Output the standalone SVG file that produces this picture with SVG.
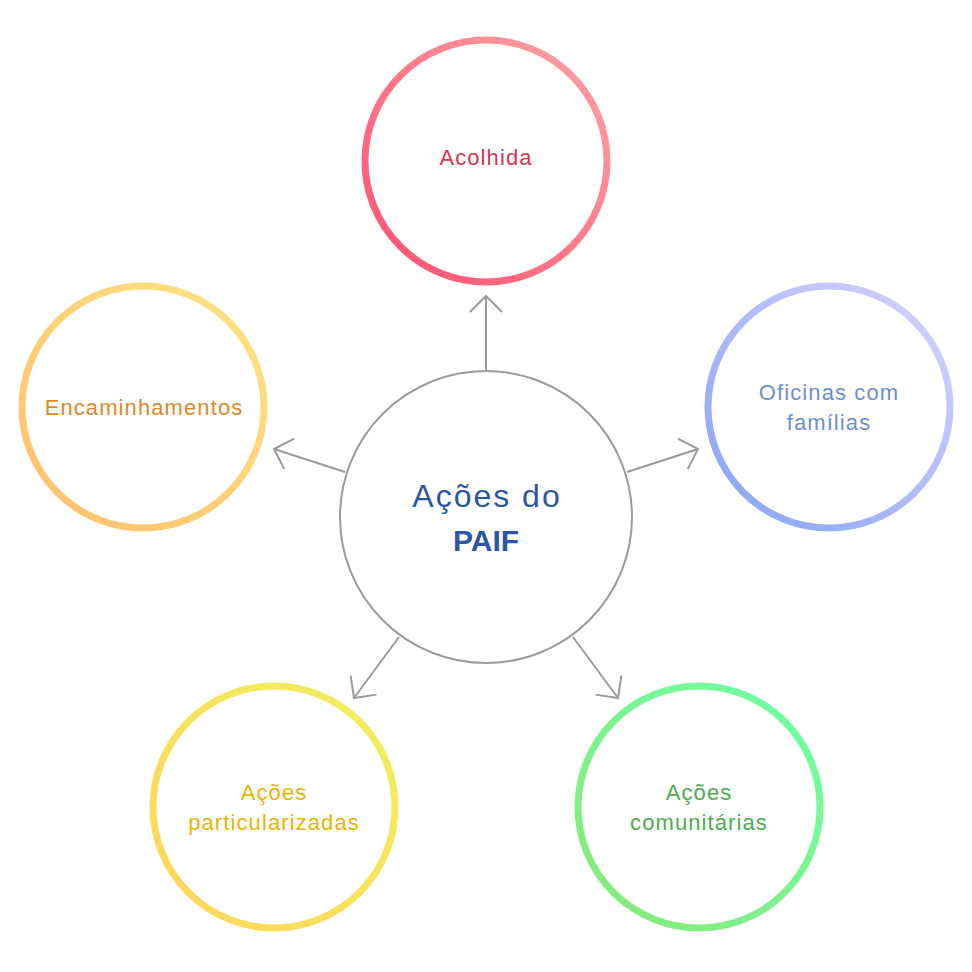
<svg xmlns="http://www.w3.org/2000/svg" width="972" height="972" viewBox="0 0 972 972">
<style>
.ring{fill:#fff;stroke-width:7}
.lbl{font-family:"Liberation Sans",Arial,sans-serif;font-size:22px;letter-spacing:1.1px;text-anchor:middle}
.conn{stroke:#9b9b9b;stroke-width:2;fill:none}
.ctr{font-family:"Liberation Sans",Arial,sans-serif;text-anchor:middle;fill:#2a56a8}
</style>
<defs>
<linearGradient id="gPink" x1="0" y1="1" x2="1" y2="0"><stop offset="0" stop-color="#ff4f70"/><stop offset="1" stop-color="#ffa3a6"/></linearGradient>
<linearGradient id="gBlue" x1="0" y1="1" x2="1" y2="0"><stop offset="0" stop-color="#86a4f4"/><stop offset="1" stop-color="#d9d3ff"/></linearGradient>
<linearGradient id="gOrange" x1="0" y1="1" x2="1" y2="0"><stop offset="0" stop-color="#ffbf6c"/><stop offset="1" stop-color="#ffe383"/></linearGradient>
<linearGradient id="gYellow" x1="0" y1="1" x2="1" y2="0"><stop offset="0" stop-color="#ffd55c"/><stop offset="1" stop-color="#eef05c"/></linearGradient>
<linearGradient id="gGreen" x1="0" y1="1" x2="1" y2="0"><stop offset="0" stop-color="#8ae878"/><stop offset="1" stop-color="#6effa6"/></linearGradient>
<marker id="arr" markerUnits="userSpaceOnUse" viewBox="-18 -18 20 36" refX="0" refY="0" markerWidth="20" markerHeight="36" orient="auto" overflow="visible">
<path d="M-16,-16 L0,0 L-16,16" fill="none" stroke="#9b9b9b" stroke-width="2"/>
</marker>
</defs>
<rect width="972" height="972" fill="#fff"/>
<g id="connectors">
<line class="conn" x1="486" y1="370" x2="486" y2="296" marker-end="url(#arr)"/>
<line class="conn" x1="345" y1="472" x2="274" y2="449" marker-end="url(#arr)"/>
<line class="conn" x1="627" y1="472" x2="698" y2="449" marker-end="url(#arr)"/>
<line class="conn" x1="399" y1="637" x2="354" y2="698" marker-end="url(#arr)"/>
<line class="conn" x1="573" y1="637" x2="618" y2="698" marker-end="url(#arr)"/>
</g>
<g id="center">
<circle cx="486" cy="517" r="146" fill="#fff" stroke="#9b9b9b" stroke-width="2"/>
<text class="ctr" x="487" y="507" font-size="32" letter-spacing="2">Ações do</text>
<text class="ctr" x="486" y="551" font-size="30" font-weight="bold">PAIF</text>
</g>
<g id="acolhida">
<circle class="ring" cx="486" cy="161" r="121" stroke="url(#gPink)"/>
<text class="lbl" x="486" y="165" fill="#d6344f">Acolhida</text>
</g>
<g id="oficinas">
<circle class="ring" cx="829" cy="407" r="121" stroke="url(#gBlue)"/>
<text class="lbl" x="829" y="400" fill="#6b8fd6">Oficinas com</text>
<text class="lbl" x="829" y="430" fill="#6b8fd6">famílias</text>
</g>
<g id="encaminhamentos">
<circle class="ring" cx="143" cy="407" r="121" stroke="url(#gOrange)"/>
<text class="lbl" x="144" y="415" fill="#e0892a">Encaminhamentos</text>
</g>
<g id="particularizadas">
<circle class="ring" cx="274" cy="807" r="121" stroke="url(#gYellow)"/>
<text class="lbl" x="274" y="800" fill="#e9b500">Ações</text>
<text class="lbl" x="274" y="830" fill="#e9b500">particularizadas</text>
</g>
<g id="comunitarias">
<circle class="ring" cx="699" cy="807" r="121" stroke="url(#gGreen)"/>
<text class="lbl" x="699" y="800" fill="#4bad4e">Ações</text>
<text class="lbl" x="699" y="830" fill="#4bad4e">comunitárias</text>
</g>
</svg>
